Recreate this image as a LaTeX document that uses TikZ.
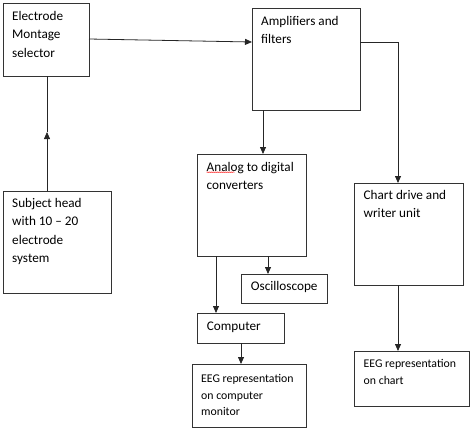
\documentclass[tikz,border=0pt]{standalone}
\usepackage{fontspec}
\setmainfont{Carlito}
\usetikzlibrary{arrows.meta,decorations.pathmorphing}
\begin{document}
\begin{tikzpicture}[x=1pt,y=-1pt,
 box/.style={draw=black!80, line width=0.9pt, inner sep=0pt, outer sep=0pt},
 txt/.style={anchor=north west, inner sep=0pt, align=left, font=\fontsize{13.2}{18.5}\selectfont, text=black},
 stxt/.style={txt, font=\fontsize{11.8}{16.5}\selectfont},
 arr/.style={draw=black!85, line width=0.8pt, -{Triangle[length=7pt,width=6pt]}},
 ln/.style={draw=black!85, line width=0.8pt}]
\useasboundingbox (0,0) rectangle (474,432);
% boxes
\node[box, minimum width=86pt, minimum height=73pt] (b1) at (46,39.5) {};
\node[box, minimum width=108pt, minimum height=102pt] (amp) at (306,59) {};
\node[box, minimum width=109pt, minimum height=102pt] (adc) at (251.5,205) {};
\node[box, minimum width=86pt, minimum height=29pt] (osc) at (284,288.5) {};
\node[box, minimum width=87pt, minimum height=30pt] (comp) at (240.5,328) {};
\node[box, minimum width=114pt, minimum height=63pt] (eeg1) at (249,395.5) {};
\node[box, minimum width=109pt, minimum height=102pt] (chart) at (408.5,234) {};
\node[box, minimum width=115pt, minimum height=55pt] (eeg2) at (411.5,378.5) {};
\node[box, minimum width=108pt, minimum height=102pt] (subj) at (57,242) {};
% texts
\node[txt] (b1t) at (12,11) {Electrode\\Montage\\selector};
\node[txt] (ampt) at (261,16) {Amplifiers and\\filters};
\node[txt] (adct) at (206.5,161.7) {Analog to digital\\converters};
\node[txt] (osct) at (250.7,281) {Oscilloscope};
\node[txt] (compt) at (206.7,321.7) {Computer};
\node[stxt] (eeg1t) at (201,374.5) {EEG representation\\on computer\\monitor};
\node[txt] (chartt) at (363.5,190) {Chart drive and\\writer unit};
\node[stxt] (eeg2t) at (363.5,359.5) {EEG representation\\on chart};
\node[txt] (subjt) at (12,198) {Subject head\\with 10 -- 20\\electrode\\system};
\draw[red, line width=0.4pt, decorate, decoration={snake, amplitude=0.5pt, segment length=2pt}] ([yshift=-10.5pt]adct.north west) -- ++(28,0);
% connector coordinates
\coordinate (m1) at (47,132);
\coordinate (ya) at (0,39);
\coordinate (yb) at (0,42);
\coordinate (xc) at (398,0);
\coordinate (xd) at (263,0);
\coordinate (xe) at (268,0);
\coordinate (xf) at (216,0);
\coordinate (xg) at (241,0);
% connectors
\draw[arr] (subj.north -| m1) -- (m1);
\draw[ln] (m1) -- (b1.south -| m1);
\draw[arr] (b1.east |- ya) -- (amp.west |- yb);
\draw[arr] (amp.east |- yb) -| (chart.north -| xc);
\draw[arr] (amp.south -| xd) -- (adc.north -| xd);
\draw[arr] (adc.south -| xe) -- (osc.north -| xe);
\draw[arr] (adc.south -| xf) -- (comp.north -| xf);
\draw[arr] (comp.south -| xg) -- (eeg1.north -| xg);
\draw[arr] (chart.south -| xc) -- (eeg2.north -| xc);
\end{tikzpicture}
\end{document}
